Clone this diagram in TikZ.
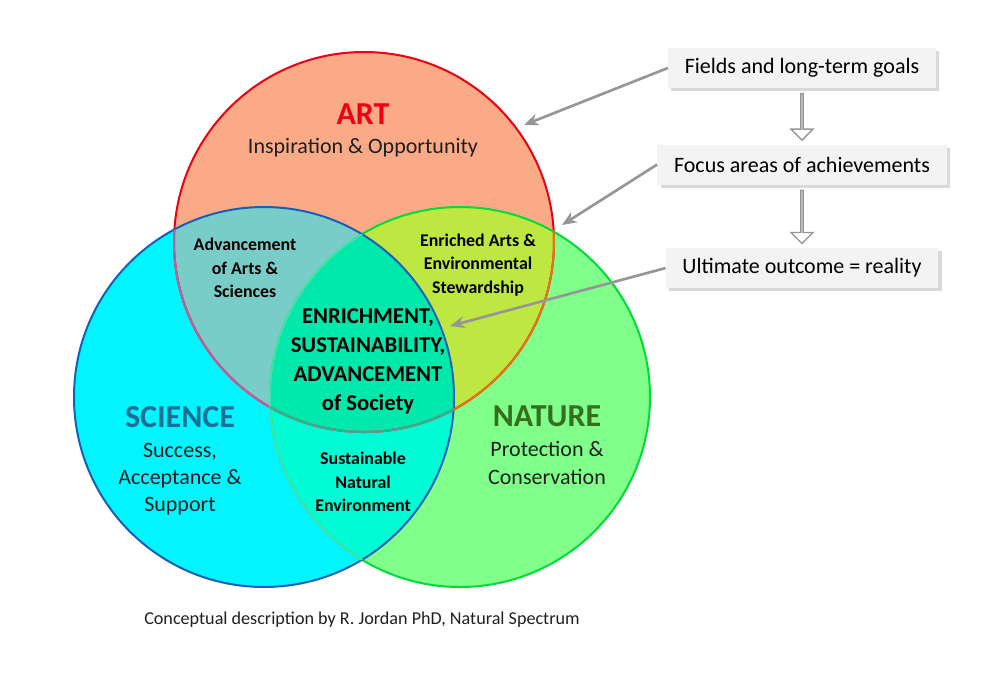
\documentclass[tikz,border=0pt]{standalone}
\usepackage{fontspec}
\setmainfont{Carlito}
\usetikzlibrary{arrows.meta, positioning, shapes.arrows, shadows, calc}
\definecolor{artfill}{RGB}{250,170,135}
\definecolor{scifill}{RGB}{0,245,255}
\definecolor{natfill}{RGB}{128,255,138}
\definecolor{asfill}{RGB}{120,205,200}
\definecolor{anfill}{RGB}{190,232,65}
\definecolor{snfill}{RGB}{0,252,212}
\definecolor{allfill}{RGB}{0,232,172}
\definecolor{artred}{RGB}{238,0,20}
\definecolor{sciblue}{RGB}{25,95,185}
\definecolor{natgreen}{RGB}{0,220,55}
\definecolor{artpink}{RGB}{195,95,150}
\definecolor{artorange}{RGB}{230,115,20}
\definecolor{natfaint}{RGB}{70,225,175}
\definecolor{coreedge}{RGB}{40,180,155}
\definecolor{scititle}{RGB}{25,110,150}
\definecolor{nattitle}{RGB}{55,110,30}
\definecolor{ptrgray}{RGB}{150,150,150}
\definecolor{boxgray}{RGB}{243,243,243}
\newcommand{\vennr}{190}

\begin{document}
\begin{tikzpicture}[
    x=0.75pt, y=-0.75pt,
    ring/.style={line width=1.5pt},
    title/.style={font=\fontsize{24}{28}\selectfont\bfseries},
    sub/.style={font=\fontsize{16.5}{20.5}\selectfont, align=center, text=black!88},
    overlap/.style={font=\fontsize{13.4}{17.6}\selectfont\bfseries, align=center},
    core/.style={font=\fontsize{17}{21.75}\selectfont\bfseries, align=center},
    goal/.style={fill=boxgray, minimum height=30pt, inner xsep=12.5pt,
                 font=\fontsize{16.5}{20}\selectfont,
                 drop shadow={shadow xshift=2.5pt, shadow yshift=-2.5pt, opacity=0.3, fill=black!50}},
    pointer/.style={draw=ptrgray, line width=2pt, -{Stealth[length=11pt, width=9pt]}},
    hollow/.style={single arrow, draw=ptrgray, fill=white, line width=1pt, inner sep=0pt,
                   minimum width=16.5pt, single arrow head extend=4.5pt,
                   single arrow head indent=0pt, shape border rotate=270},
]
\useasboundingbox (0,0) rectangle (1000,683);

% circle centres
\coordinate (artc) at (364,242);
\coordinate (scic) at (264,397);
\coordinate (natc) at (460,397);

% discs and overlaps
\fill[artfill] (artc) circle[radius=\vennr];
\fill[natfill] (natc) circle[radius=\vennr];
\fill[scifill] (scic) circle[radius=\vennr];
\begin{scope}
  \clip (artc) circle[radius=\vennr];
  \fill[asfill] (scic) circle[radius=\vennr];
  \fill[anfill] (natc) circle[radius=\vennr];
\end{scope}
\begin{scope}
  \clip (scic) circle[radius=\vennr];
  \fill[snfill] (natc) circle[radius=\vennr];
  \clip (artc) circle[radius=\vennr];
  \fill[allfill] (natc) circle[radius=\vennr];
\end{scope}

% rims
\draw[ring, artred] (artc) circle[radius=\vennr];
\draw[ring, natgreen] (natc) circle[radius=\vennr];
\draw[ring, sciblue] (scic) circle[radius=\vennr];
\begin{scope}
  \clip (scic) circle[radius=\vennr];
  \draw[ring, artpink] (artc) circle[radius=\vennr];
  \draw[ring, natfaint] (natc) circle[radius=\vennr];
\end{scope}
\begin{scope}
  \clip (natc) circle[radius=\vennr];
  \draw[ring, artorange] (artc) circle[radius=\vennr];
  \clip (scic) circle[radius=\vennr];
  \draw[ring, coreedge] (artc) circle[radius=\vennr];
\end{scope}

% field labels
\node[title, text=artred] (art) at (363,114) {ART};
\node[sub] (artsub) at (363,148) {Inspiration \& Opportunity};
\node[title, text=scititle] (sci) at (180,417) {SCIENCE};
\node[sub] (scisub) at (180,479) {Success,\\Acceptance \&\\Support};
\node[title, text=nattitle] (nat) at (547,416) {NATURE};
\node[sub] (natsub) at (547,463) {Protection \&\\Conservation};

% overlap labels
\node[overlap] (artsci) at (245,268) {Advancement\\of Arts \&\\Sciences};
\node[overlap] (artnat) at (478,265) {Enriched Arts \&\\Environmental\\Stewardship};
\node[overlap] (scinat) at (363,482) {Sustainable\\Natural\\Environment};
\node[core] (centre) at (368,361) {ENRICHMENT,\\SUSTAINABILITY,\\ADVANCEMENT\\of Society};

% legend boxes
\node[goal] (fields) at (802,68) {Fields and long-term goals};
\node[goal, below=56pt*0.75 of fields] (focus) {Focus areas of achievements};
\node[goal, below=63pt*0.75 of focus] (outcome) {Ultimate outcome = reality};

\node[hollow, minimum height=35pt] (down1) at ($(fields.south)!0.5!(focus.north)$) {};
\node[hollow, minimum height=40pt] (down2) at ($(focus.south)!0.5!(outcome.north)$) {};

% pointers
\coordinate (artrim) at (524,125);
\coordinate (toprim) at (562,225);
\coordinate (core) at (450,326);
\draw[pointer] (fields.west) -- (artrim);
\draw[pointer] (focus.west) -- (toprim);
\draw[pointer] (outcome.west) -- (core);

\node[font=\fontsize{13.6}{16}\selectfont, text=black!88] (credit) at (362,620)
  {Conceptual description by R. Jordan PhD, Natural Spectrum};
\end{tikzpicture}
\end{document}
